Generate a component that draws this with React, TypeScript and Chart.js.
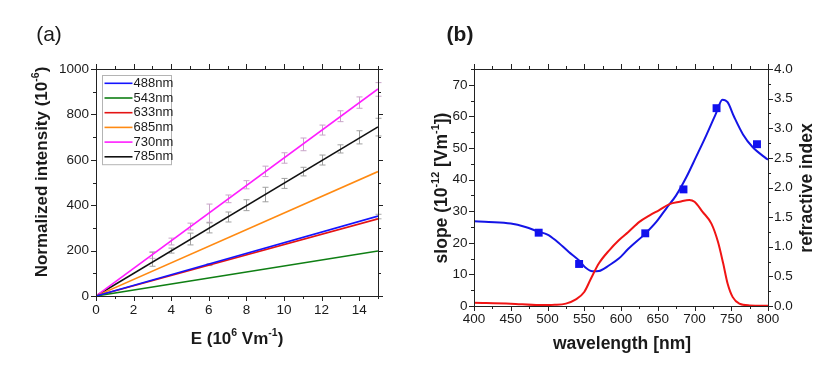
import React, { useEffect, useRef } from 'react';
import { Chart, registerables } from 'chart.js';

Chart.register(...registerables);

const FONT = '"Liberation Sans", Arial, Helvetica, sans-serif';
const TEXT = '#1a1a1a';
const AXIS = '#222222';

// ---------------- Panel (a) data ----------------
const fieldRange = [0, 15];
const seriesLabelsA = ['488nm', '543nm', '633nm', '685nm', '730nm', '785nm'];
const seriesColorsA = ['#1414ff', '#0f7f14', '#e41414', '#ff8a12', '#ff1eff', '#111111'];
const int488 = [0, 352];
const int543 = [0, 198];
const int633 = [0, 340];
const int685 = [0, 548];
const int730 = [0, 912];
const int785 = [0, 745];
const seriesA = [int488, int543, int633, int685, int730, int785];

const errFields = [3, 4, 5, 6, 7, 8, 9, 10, 11, 12, 13, 14, 15];
const mean730 = [180, 240, 306, 365, 428, 490, 549, 608, 668, 731, 792, 852, 910];
const err730 = [14, 15, 15, 40, 17, 18, 23, 23, 28, 22, 24, 25, 30];
const mean785 = [162, 200, 251, 300, 348, 400, 447, 496, 548, 599, 648, 699, 744];
const err785 = [31, 11, 26, 22, 22, 24, 32, 22, 19, 22, 18, 29, 39];
const errFields488 = [6, 15];
const mean488 = [138, 350];
const err488 = [4, 10];

const xTicksA = [0, 2, 4, 6, 8, 10, 12, 14];
const xMinorA = [1, 3, 5, 7, 9, 11, 13, 15];
const yTicksA = [0, 200, 400, 600, 800, 1000];
const yMinorA = [100, 300, 500, 700, 900];

// ---------------- Panel (b) data ----------------
const slopeCurveWl = [400, 420, 450, 470, 488, 500, 511, 529, 543, 552, 561, 570, 584, 597, 610, 633, 648, 662, 675, 689, 702, 716, 729, 738, 745, 754, 766, 779, 797, 800];
const slopeCurve = [26.8, 26.6, 26.1, 25.0, 23.5, 22.6, 20.8, 17.1, 14.4, 12.1, 11.0, 11.1, 12.9, 15.0, 18.1, 22.9, 26.6, 31.0, 35.0, 40.8, 47.1, 54.0, 60.8, 65.3, 64.5, 59.8, 54.3, 50.3, 46.8, 46.3];
const indexWl = [400, 450, 489, 510, 525, 538, 550, 559, 570, 584, 597, 610, 625, 639, 652, 666, 680, 693, 700, 711, 723, 732, 739, 745, 752, 761, 775, 800];
const refrIndex = [0.056, 0.04, 0.015, 0.02, 0.04, 0.107, 0.237, 0.46, 0.72, 0.94, 1.11, 1.25, 1.42, 1.53, 1.62, 1.72, 1.76, 1.79, 1.76, 1.59, 1.39, 1.08, 0.72, 0.38, 0.15, 0.04, 0.01, 0.005];
const measuredWl = [488, 543, 633, 685, 730, 785];
const measuredSlope = [23.2, 13.3, 23.0, 36.9, 62.6, 51.2];

const xTicksB = [400, 450, 500, 550, 600, 650, 700, 750, 800];
const xMinorB = [425, 475, 525, 575, 625, 675, 725, 775];
const yTicksBL = [0, 10, 20, 30, 40, 50, 60, 70];
const yMinorBL = [5, 15, 25, 35, 45, 55, 65, 75];
const yTicksBR = [0, 0.5, 1, 1.5, 2, 2.5, 3, 3.5, 4];
const yMinorBR = [0.25, 0.75, 1.25, 1.75, 2.25, 2.75, 3.25, 3.75];

type Seg = { t: string; sup?: boolean };

function fontStr(size: number, bold: boolean) {
  return `${bold ? 'bold ' : ''}${size}px ${FONT}`;
}

function drawRich(ctx: CanvasRenderingContext2D, segs: Seg[], x: number, y: number, size: number, bold: boolean, rot: number) {
  ctx.save();
  ctx.translate(x, y);
  ctx.rotate(rot);
  const width = (s: Seg) => {
    ctx.font = fontStr(s.sup ? size * 0.62 : size, bold);
    return ctx.measureText(s.t).width;
  };
  const total = segs.reduce((a, s) => a + width(s), 0);
  let cx = -total / 2;
  ctx.textBaseline = 'middle';
  ctx.textAlign = 'left';
  ctx.fillStyle = TEXT;
  for (const s of segs) {
    const w = width(s);
    ctx.font = fontStr(s.sup ? size * 0.62 : size, bold);
    ctx.fillText(s.t, cx, s.sup ? -size * 0.36 : 0);
    cx += w;
  }
  ctx.restore();
}

const framePlugin = {
  id: 'frameTicks',
  afterDraw(chart: any, _args: any, opts: any) {
    const { ctx, chartArea } = chart;
    const { left, right, top, bottom } = chartArea;
    ctx.save();
    ctx.strokeStyle = AXIS;
    ctx.lineWidth = 1;
    ctx.strokeRect(Math.round(left) + 0.5, Math.round(top) + 0.5, Math.round(right - left), Math.round(bottom - top));
    const MAJ = 5;
    const MIN = 3;
    for (const side of opts.sides || []) {
      const scale = chart.scales[side.scale];
      const draw = (vals: number[], len: number) => {
        for (const v of vals) {
          const p = Math.round(scale.getPixelForValue(v)) + 0.5;
          ctx.beginPath();
          if (side.side === 'bottom') { ctx.moveTo(p, bottom); ctx.lineTo(p, bottom + len); }
          if (side.side === 'top') { ctx.moveTo(p, top); ctx.lineTo(p, top - len); }
          if (side.side === 'left') { ctx.moveTo(left, p); ctx.lineTo(left - len, p); }
          if (side.side === 'right') { ctx.moveTo(right, p); ctx.lineTo(right + len, p); }
          ctx.stroke();
        }
      };
      draw(side.major, MAJ);
      draw(side.minor, MIN);
    }
    ctx.restore();
  },
};

const textPlugin = {
  id: 'texts',
  afterDraw(chart: any, _args: any, opts: any) {
    const { ctx } = chart;
    for (const it of opts.items || []) {
      drawRich(ctx, it.segs, it.x, it.y, it.size, it.bold, it.rot || 0);
    }
  },
};

const errorBarPlugin = {
  id: 'errorBars',
  beforeDatasetsDraw(chart: any) {
    const { ctx } = chart;
    const xs = chart.scales.x;
    const ys = chart.scales.y;
    chart.data.datasets.forEach((ds: any) => {
      if (!ds.errorBars) return;
      ctx.save();
      ctx.strokeStyle = ds.errorColor;
      ctx.lineWidth = 1;
      ds.data.forEach((pt: any, i: number) => {
        const e = ds.errorBars[i];
        const px = Math.round(xs.getPixelForValue(pt.x)) + 0.5;
        const y1 = ys.getPixelForValue(pt.y + e);
        const y2 = ys.getPixelForValue(pt.y - e);
        ctx.beginPath();
        ctx.moveTo(px, y1); ctx.lineTo(px, y2);
        ctx.moveTo(px - 3, y1); ctx.lineTo(px + 3, y1);
        ctx.moveTo(px - 3, y2); ctx.lineTo(px + 3, y2);
        ctx.stroke();
      });
      ctx.restore();
    });
  },
};

const legendPlugin = {
  id: 'boxLegend',
  afterDraw(chart: any, _args: any, opts: any) {
    if (!opts.show) return;
    const { ctx, chartArea } = chart;
    const items = chart.data.datasets.filter((d: any) => d.inLegend);
    const x0 = chartArea.left + 6.5;
    const y0 = chartArea.top + 6.5;
    const rowH = 14.7;
    const w = 69;
    const h = items.length * rowH + 1;
    ctx.save();
    ctx.fillStyle = '#ffffff';
    ctx.fillRect(x0, y0, w, h);
    ctx.strokeStyle = '#b4b4b4';
    ctx.lineWidth = 1;
    ctx.strokeRect(x0, y0, w, h);
    ctx.font = fontStr(13, false);
    ctx.textBaseline = 'middle';
    ctx.textAlign = 'left';
    items.forEach((d: any, i: number) => {
      const cy = y0 + 7.8 + i * rowH;
      ctx.strokeStyle = d.borderColor;
      ctx.lineWidth = 1.6;
      ctx.beginPath();
      ctx.moveTo(x0 + 2, cy);
      ctx.lineTo(x0 + 30, cy);
      ctx.stroke();
      ctx.fillStyle = TEXT;
      ctx.fillText(d.label, x0 + 31, cy);
    });
    ctx.restore();
  },
};

const tickFont = { family: FONT, size: 13.5 };
const plainLabel = (v: any) => String(v);

function setTicks(vals: number[]) {
  return (scale: any) => {
    scale.ticks = vals.map((v) => ({ value: v }));
  };
}

function makeChartA(canvas: HTMLCanvasElement) {
  const datasets: any[] = seriesA.map((vals, i) => ({
    type: 'line',
    label: seriesLabelsA[i],
    data: fieldRange.map((x, j) => ({ x, y: vals[j] })),
    borderColor: seriesColorsA[i],
    borderWidth: 1.6,
    pointRadius: 0,
    fill: false,
    inLegend: true,
  }));
  datasets.push({
    type: 'scatter', label: 'err730', data: errFields.map((x, i) => ({ x, y: mean730[i] })),
    errorBars: err730, errorColor: '#c8a4c8', pointRadius: 0, showLine: false,
  });
  datasets.push({
    type: 'scatter', label: 'err785', data: errFields.map((x, i) => ({ x, y: mean785[i] })),
    errorBars: err785, errorColor: '#a0a0a0', pointRadius: 0, showLine: false,
  });
  datasets.push({
    type: 'scatter', label: 'err488', data: errFields488.map((x, i) => ({ x, y: mean488[i] })),
    errorBars: err488, errorColor: '#a8a8a8', pointRadius: 0, showLine: false,
  });

  return new Chart(canvas, {
    type: 'line',
    data: { datasets },
    plugins: [errorBarPlugin, framePlugin, legendPlugin, textPlugin],
    options: {
      animation: false,
      responsive: false,
      maintainAspectRatio: false,
      layout: { padding: { left: 0, right: 42, top: 69, bottom: 0 } },
      plugins: {
        legend: { display: false },
        tooltip: { enabled: false },
        boxLegend: { show: true },
        frameTicks: {
          sides: [
            { scale: 'x', side: 'bottom', major: xTicksA, minor: xMinorA },
            { scale: 'x', side: 'top', major: xTicksA, minor: xMinorA },
            { scale: 'y', side: 'left', major: yTicksA, minor: yMinorA },
            { scale: 'y', side: 'right', major: yTicksA, minor: yMinorA },
          ],
        },
        texts: {
          items: [
            { segs: [{ t: '(a)' }], x: 49, y: 35, size: 21, bold: false },
            { segs: [{ t: 'Normalized intensity (10' }, { t: '-6', sup: true }, { t: ')' }], x: 42, y: 172, size: 17, bold: true, rot: -Math.PI / 2 },
            { segs: [{ t: 'E (10' }, { t: '6', sup: true }, { t: ' Vm' }, { t: '-1', sup: true }, { t: ')' }], x: 237, y: 339, size: 17, bold: true },
          ],
        },
      } as any,
      scales: {
        x: {
          type: 'linear', min: 0, max: 15,
          grid: { display: false, drawTicks: false },
          border: { display: false },
          ticks: { font: tickFont, color: TEXT, padding: 6, maxRotation: 0, callback: plainLabel },
          afterBuildTicks: setTicks(xTicksA),
          afterFit: (s: any) => { s.height = 75; },
        },
        y: {
          type: 'linear', min: 0, max: 1000,
          grid: { display: false, drawTicks: false },
          border: { display: false },
          ticks: { font: tickFont, color: TEXT, padding: 7, callback: plainLabel },
          afterBuildTicks: setTicks(yTicksA),
          afterFit: (s: any) => { s.width = 96; },
        },
      },
    } as any,
  });
}

function makeChartB(canvas: HTMLCanvasElement) {
  return new Chart(canvas, {
    type: 'line',
    data: {
      datasets: [
        {
          type: 'line', label: 'refractive index', yAxisID: 'y2',
          data: indexWl.map((x, i) => ({ x, y: refrIndex[i] })),
          borderColor: '#f01414', borderWidth: 2, pointRadius: 0, fill: false,
          cubicInterpolationMode: 'monotone',
        },
        {
          type: 'line', label: 'slope fit', yAxisID: 'y',
          data: slopeCurveWl.map((x, i) => ({ x, y: slopeCurve[i] })),
          borderColor: '#1414e6', borderWidth: 2, pointRadius: 0, fill: false,
          cubicInterpolationMode: 'monotone',
        },
        {
          type: 'scatter', label: 'slope', yAxisID: 'y',
          data: measuredWl.map((x, i) => ({ x, y: measuredSlope[i] })),
          backgroundColor: '#1010f0', borderColor: '#1010f0', borderWidth: 0,
          pointStyle: 'rect', pointRadius: 5.6, showLine: false,
        },
      ] as any,
    },
    plugins: [framePlugin, textPlugin],
    options: {
      animation: false,
      responsive: false,
      maintainAspectRatio: false,
      layout: { padding: { left: 0, right: 0, top: 69, bottom: 0 } },
      plugins: {
        legend: { display: false },
        tooltip: { enabled: false },
        frameTicks: {
          sides: [
            { scale: 'x', side: 'bottom', major: xTicksB, minor: xMinorB },
            { scale: 'x', side: 'top', major: xTicksB, minor: xMinorB },
            { scale: 'y', side: 'left', major: yTicksBL, minor: yMinorBL },
            { scale: 'y2', side: 'right', major: yTicksBR, minor: yMinorBR },
          ],
        },
        texts: {
          items: [
            { segs: [{ t: '(b)' }], x: 40, y: 35, size: 21, bold: true },
            { segs: [{ t: 'slope (10' }, { t: '-12', sup: true }, { t: ' [Vm' }, { t: '-1', sup: true }, { t: '])' }], x: 22, y: 188, size: 17.5, bold: true, rot: -Math.PI / 2 },
            { segs: [{ t: 'refractive index' }], x: 387, y: 188, size: 17.5, bold: true, rot: -Math.PI / 2 },
            { segs: [{ t: 'wavelength [nm]' }], x: 202, y: 344, size: 17.5, bold: true },
          ],
        },
      } as any,
      scales: {
        x: {
          type: 'linear', min: 400, max: 800,
          grid: { display: false, drawTicks: false },
          border: { display: false },
          ticks: { font: tickFont, color: TEXT, padding: 5, maxRotation: 0, callback: plainLabel },
          afterBuildTicks: setTicks(xTicksB),
          afterFit: (s: any) => { s.height = 65; },
        },
        y: {
          type: 'linear', position: 'left', min: 0, max: 75,
          grid: { display: false, drawTicks: false },
          border: { display: false },
          ticks: { font: tickFont, color: TEXT, padding: 6.5, callback: plainLabel },
          afterBuildTicks: setTicks(yTicksBL),
          afterFit: (s: any) => { s.width = 54; },
        },
        y2: {
          type: 'linear', position: 'right', min: 0, max: 4,
          grid: { display: false, drawTicks: false },
          border: { display: false },
          ticks: { font: tickFont, color: TEXT, padding: 6, callback: (v: any) => Number(v).toFixed(1) },
          afterBuildTicks: setTicks(yTicksBR),
          afterFit: (s: any) => { s.width = 61; },
        },
      },
    } as any,
  });
}

export default function App() {
  const refA = useRef<HTMLCanvasElement>(null);
  const refB = useRef<HTMLCanvasElement>(null);

  useEffect(() => {
    const a = makeChartA(refA.current!);
    const b = makeChartB(refB.current!);
    return () => {
      a.destroy();
      b.destroy();
    };
  }, []);

  return (
    <div style={{ position: 'absolute', left: 0, top: 0, width: 829, height: 371, background: '#ffffff', overflow: 'hidden' }}>
      <canvas ref={refA} width={420} height={371} style={{ position: 'absolute', left: 0, top: 0, width: 420, height: 371 }} />
      <canvas ref={refB} width={409} height={371} style={{ position: 'absolute', left: 420, top: 0, width: 409, height: 371 }} />
    </div>
  );
}
